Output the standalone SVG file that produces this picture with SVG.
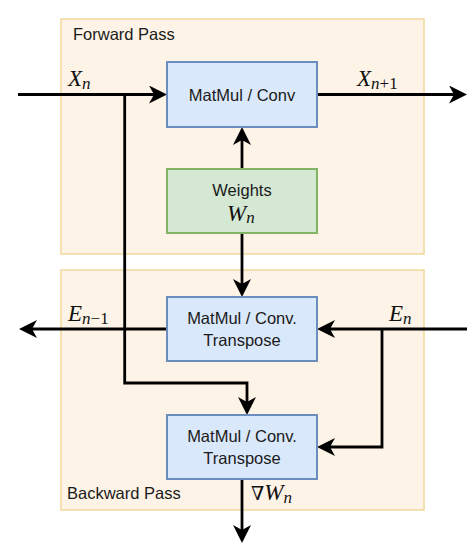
<svg xmlns="http://www.w3.org/2000/svg" width="474" height="551" viewBox="0 0 474 551">
<style>
.cont{fill:#fdf3e6;stroke:#f2dba0;stroke-width:1.6}
.blue{fill:#dae8fc;stroke:#6c8ebf;stroke-width:2}
.green{fill:#d5e8d4;stroke:#82b366;stroke-width:2}
.lbl{font-family:"Liberation Sans",Arial,sans-serif;font-size:16.5px;fill:#1a1a1a}
.mid{text-anchor:middle}
.math{font-family:"Liberation Serif","Times New Roman",serif;font-style:italic;font-size:23px;fill:#111}
.sub{font-size:17px}
.up{font-style:normal}
.nab{font-style:normal;font-weight:normal;font-family:"DejaVu Serif",serif;font-size:19px}
.edge{fill:none;stroke:#000;stroke-width:2.8}
</style>
<defs>
<marker id="arr" markerUnits="userSpaceOnUse" viewBox="0 0 18 18" markerWidth="18" markerHeight="18" refX="14" refY="9" orient="auto">
<path d="M0,0 L18,9 L0,18 L5,9 Z" fill="#000"/>
</marker>
</defs>
<g id="forward-pass">
<rect class="cont" x="61" y="19" width="363" height="235"/>
<text class="lbl" x="73" y="40">Forward Pass</text>
</g>
<g id="backward-pass">
<rect class="cont" x="61" y="270" width="363" height="240"/>
<text class="lbl" x="67" y="499">Backward Pass</text>
</g>
<g id="connectors">
<path class="edge" d="M18,94.5 H163" marker-end="url(#arr)"/>
<path class="edge" d="M317,94.5 H463" marker-end="url(#arr)"/>
<path class="edge" d="M124.7,94.5 V383 H247 V411" marker-end="url(#arr)"/>
<path class="edge" d="M242,169 V131" marker-end="url(#arr)"/>
<path class="edge" d="M242,233 V293" marker-end="url(#arr)"/>
<path class="edge" d="M467,329 H321" marker-end="url(#arr)"/>
<path class="edge" d="M382,329 V447 H321" marker-end="url(#arr)"/>
<path class="edge" d="M167,329 H23" marker-end="url(#arr)"/>
<path class="edge" d="M242,479 V539" marker-end="url(#arr)"/>
</g>
<g id="matmul-conv">
<rect class="blue" x="167" y="62" width="150" height="65"/>
<text class="lbl mid" x="242" y="101">MatMul / Conv</text>
</g>
<g id="weights">
<rect class="green" x="167" y="169" width="150" height="64"/>
<text class="lbl mid" x="242" y="196">Weights</text>
<text class="math" x="227" y="221">W<tspan class="sub" dy="2">n</tspan></text>
</g>
<g id="transpose-1">
<rect class="blue" x="167" y="297" width="150" height="64"/>
<text class="lbl mid" x="242" y="324">MatMul / Conv.</text>
<text class="lbl mid" x="242" y="346">Transpose</text>
</g>
<g id="transpose-2">
<rect class="blue" x="167" y="415" width="150" height="64"/>
<text class="lbl mid" x="242" y="442">MatMul / Conv.</text>
<text class="lbl mid" x="242" y="464">Transpose</text>
</g>
<g id="labels">
<text class="math" x="68" y="86">X<tspan class="sub" dy="3">n</tspan></text>
<text class="math" x="357" y="86">X<tspan class="sub" dy="3">n<tspan class="up">+1</tspan></tspan></text>
<text class="math" x="68" y="321">E<tspan class="sub" dy="3">n<tspan class="up">−1</tspan></tspan></text>
<text class="math" x="389" y="321">E<tspan class="sub" dy="3">n</tspan></text>
<text class="math" x="251" y="500"><tspan class="nab">∇</tspan>W<tspan class="sub" dy="3">n</tspan></text>
</g>
</svg>
